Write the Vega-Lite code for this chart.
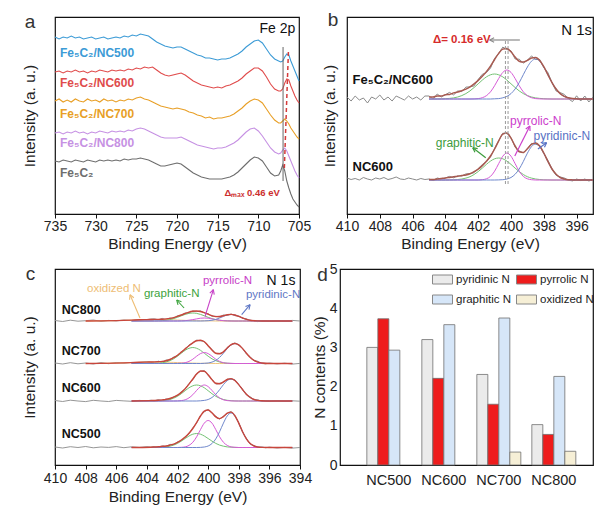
{
"$schema": "https://vega.github.io/schema/vega-lite/v6.json",
"padding": {"left": 21, "top": 10, "right": 2, "bottom": 2},
"config": {
  "font": "Liberation Sans",
  "view": {"stroke": "#111", "strokeWidth": 1.2},
  "axis": {"grid": false, "domain": false, "tickColor": "#111", "tickSize": 4, "labelColor": "#222", "titleColor": "#222", "labelFontSize": 14, "titleFontSize": 15.5, "titleFontWeight": "normal", "labelOverlap": false, "labelFlush": false}
},
"datasets": {
"a": [
{"e":735,"NC500":177,"NC600":142,"NC700":113,"NC800":81,"Fe5C2":53},
{"e":734.5,"NC500":175,"NC600":143,"NC700":115,"NC800":82,"Fe5C2":52},
{"e":734,"NC500":177,"NC600":141,"NC700":112,"NC800":80,"Fe5C2":54},
{"e":733.5,"NC500":176,"NC600":143,"NC700":114,"NC800":82,"Fe5C2":53},
{"e":733,"NC500":178,"NC600":142,"NC700":112,"NC800":81,"Fe5C2":52},
{"e":732.5,"NC500":176,"NC600":144,"NC700":115,"NC800":83,"Fe5C2":54},
{"e":732,"NC500":177,"NC600":142,"NC700":113,"NC800":81,"Fe5C2":53},
{"e":731.5,"NC500":175,"NC600":143,"NC700":112,"NC800":82,"Fe5C2":52},
{"e":731,"NC500":176,"NC600":141,"NC700":115,"NC800":80,"Fe5C2":54},
{"e":730.5,"NC500":177,"NC600":143,"NC700":113,"NC800":82,"Fe5C2":53},
{"e":730,"NC500":175,"NC600":142,"NC700":114,"NC800":81,"Fe5C2":52},
{"e":729.5,"NC500":176,"NC600":144,"NC700":112,"NC800":83,"Fe5C2":54},
{"e":729,"NC500":177,"NC600":143,"NC700":115,"NC800":82,"Fe5C2":53},
{"e":728.5,"NC500":175,"NC600":142,"NC700":113,"NC800":81,"Fe5C2":54},
{"e":728,"NC500":176,"NC600":144,"NC700":114,"NC800":83,"Fe5C2":53},
{"e":727.5,"NC500":177,"NC600":143,"NC700":112,"NC800":82,"Fe5C2":54},
{"e":727,"NC500":176,"NC600":144,"NC700":114,"NC800":83,"Fe5C2":53},
{"e":726.5,"NC500":178,"NC600":143,"NC700":113,"NC800":82,"Fe5C2":55},
{"e":726,"NC500":177,"NC600":145,"NC700":115,"NC800":84,"Fe5C2":54},
{"e":725.5,"NC500":179,"NC600":144,"NC700":114,"NC800":83,"Fe5C2":55},
{"e":725,"NC500":178,"NC600":146,"NC700":116,"NC800":85,"Fe5C2":55},
{"e":724.5,"NC500":180,"NC600":145,"NC700":117,"NC800":86,"Fe5C2":56},
{"e":724,"NC500":179,"NC600":147,"NC700":115,"NC800":85,"Fe5C2":55},
{"e":723.5,"NC500":178,"NC600":146,"NC700":114,"NC800":83,"Fe5C2":54},
{"e":723,"NC500":175,"NC600":147,"NC700":112,"NC800":81,"Fe5C2":52},
{"e":722.5,"NC500":172,"NC600":144,"NC700":110,"NC800":79,"Fe5C2":50},
{"e":722,"NC500":170,"NC600":141,"NC700":108,"NC800":77,"Fe5C2":48},
{"e":721.5,"NC500":168,"NC600":139,"NC700":107,"NC800":76,"Fe5C2":48},
{"e":721,"NC500":167,"NC600":138,"NC700":106,"NC800":76,"Fe5C2":49},
{"e":720.5,"NC500":166,"NC600":139,"NC700":105,"NC800":76,"Fe5C2":50},
{"e":720,"NC500":167,"NC600":140,"NC700":106,"NC800":76,"Fe5C2":51},
{"e":719.5,"NC500":167,"NC600":141,"NC700":105,"NC800":77,"Fe5C2":50},
{"e":719,"NC500":165,"NC600":139,"NC700":104,"NC800":75,"Fe5C2":47},
{"e":718.5,"NC500":163,"NC600":136,"NC700":102,"NC800":73,"Fe5C2":44},
{"e":718,"NC500":161,"NC600":133,"NC700":101,"NC800":71,"Fe5C2":41},
{"e":717.5,"NC500":159,"NC600":131,"NC700":99,"NC800":69,"Fe5C2":39},
{"e":717,"NC500":158,"NC600":129,"NC700":98,"NC800":68,"Fe5C2":37},
{"e":716.5,"NC500":156,"NC600":128,"NC700":96,"NC800":67,"Fe5C2":36},
{"e":716,"NC500":156,"NC600":127,"NC700":97,"NC800":66,"Fe5C2":35},
{"e":715.5,"NC500":155,"NC600":126,"NC700":95,"NC800":65,"Fe5C2":35},
{"e":715,"NC500":154,"NC600":127,"NC700":96,"NC800":66,"Fe5C2":35},
{"e":714.5,"NC500":155,"NC600":126,"NC700":96,"NC800":66,"Fe5C2":35},
{"e":714,"NC500":155,"NC600":128,"NC700":97,"NC800":67,"Fe5C2":36},
{"e":713.5,"NC500":156,"NC600":129,"NC700":98,"NC800":69,"Fe5C2":37},
{"e":713,"NC500":158,"NC600":131,"NC700":100,"NC800":71,"Fe5C2":39},
{"e":712.5,"NC500":160,"NC600":133,"NC700":103,"NC800":74,"Fe5C2":42},
{"e":712,"NC500":163,"NC600":136,"NC700":106,"NC800":78,"Fe5C2":46},
{"e":711.5,"NC500":167,"NC600":140,"NC700":110,"NC800":82,"Fe5C2":50},
{"e":711,"NC500":170,"NC600":143,"NC700":113,"NC800":85,"Fe5C2":54},
{"e":710.5,"NC500":173,"NC600":146,"NC700":115,"NC800":86,"Fe5C2":57},
{"e":710,"NC500":174,"NC600":146,"NC700":114,"NC800":83,"Fe5C2":56},
{"e":709.5,"NC500":171,"NC600":143,"NC700":111,"NC800":78,"Fe5C2":53},
{"e":709,"NC500":165,"NC600":137,"NC700":105,"NC800":72,"Fe5C2":47},
{"e":708.5,"NC500":159,"NC600":130,"NC700":99,"NC800":66,"Fe5C2":41},
{"e":708,"NC500":155,"NC600":125,"NC700":94,"NC800":62,"Fe5C2":38},
{"e":707.5,"NC500":153,"NC600":123,"NC700":91,"NC800":60,"Fe5C2":39},
{"e":707.25,"NC500":152,"NC600":123,"NC700":91,"NC800":61,"Fe5C2":43},
{"e":707,"NC500":153,"NC600":125,"NC700":93,"NC800":64,"Fe5C2":49},
{"e":706.75,"NC500":157,"NC600":131,"NC700":95,"NC800":66,"Fe5C2":43},
{"e":706.5,"NC500":160,"NC600":135,"NC700":93,"NC800":63,"Fe5C2":33},
{"e":706.25,"NC500":159,"NC600":134,"NC700":90,"NC800":58,"Fe5C2":26},
{"e":706,"NC500":153,"NC600":128,"NC700":86,"NC800":53,"Fe5C2":20},
{"e":705.75,"NC500":148,"NC600":123,"NC700":83,"NC800":48,"Fe5C2":15},
{"e":705.5,"NC500":143,"NC600":118,"NC700":80,"NC800":43,"Fe5C2":12},
{"e":705.25,"NC500":138,"NC600":114,"NC700":77,"NC800":39,"Fe5C2":9},
{"e":705,"NC500":133,"NC600":111,"NC700":75,"NC800":36,"Fe5C2":7}
],
"b": [
{"e":410,"r1":117,"r2":36},{"e":409.75,"r1":113,"r2":34.5},{"e":409.5,"r1":118,"r2":35.5},{"e":409.25,"r1":114,"r2":34},
{"e":409,"r1":116,"r2":36.5},{"e":408.75,"r1":111,"r2":35},{"e":408.5,"r1":117,"r2":34},{"e":408.25,"r1":115,"r2":36},
{"e":408,"r1":119,"r2":35},{"e":407.75,"r1":114,"r2":36.5},{"e":407.5,"r1":117,"r2":34.5},{"e":407.25,"r1":113,"r2":35.5},
{"e":407,"r1":118,"r2":37},{"e":406.75,"r1":116,"r2":35},{"e":406.5,"r1":114,"r2":34.5},{"e":406.25,"r1":118,"r2":36},
{"e":406,"r1":115,"r2":35},{"e":405.75,"r1":117,"r2":34},{"e":405.5,"r1":114,"r2":35.5},{"e":405.25,"r1":118,"r2":34.5},
{"e":405,"r1":118,"f1":117,"g1":115,"p1":115,"d1":115,"r2":35,"f2":34.5,"g2":34,"p2":34,"d2":34},
{"e":404.75,"r1":115,"f1":117,"g1":115,"p1":115,"d1":115,"r2":33.5,"f2":34.5,"g2":34,"p2":34,"d2":34},
{"e":404.5,"r1":120,"f1":118,"g1":115,"p1":115,"d1":115,"r2":36,"f2":35,"g2":34,"p2":34,"d2":34},
{"e":404.25,"r1":117,"f1":118,"g1":115.1,"p1":115,"d1":115,"r2":35,"f2":35.5,"g2":34,"p2":34,"d2":34},
{"e":404,"r1":119.3,"f1":119.3,"g1":115.3,"p1":115,"d1":115,"r2":36,"f2":36,"g2":34,"p2":34,"d2":34},
{"e":403.75,"r1":121.6,"f1":119.6,"g1":115.6,"p1":115,"d1":115,"r2":37.6,"f2":36.6,"g2":34.1,"p2":34,"d2":34},
{"e":403.5,"r1":119.1,"f1":121.1,"g1":116.1,"p1":115,"d1":115,"r2":36.2,"f2":37.2,"g2":34.2,"p2":34,"d2":34},
{"e":403.25,"r1":123,"f1":122,"g1":117,"p1":115,"d1":115,"r2":38.2,"f2":37.7,"g2":34.5,"p2":34,"d2":34},
{"e":403,"r1":122.4,"f1":123.4,"g1":118.4,"p1":115,"d1":115,"r2":38,"f2":38.5,"g2":35,"p2":34,"d2":34},
{"e":402.75,"r1":126.9,"f1":124.9,"g1":120.4,"p1":115,"d1":115,"r2":40.1,"f2":39.1,"g2":35.9,"p2":34,"d2":34},
{"e":402.5,"r1":127.1,"f1":127.1,"g1":123.1,"p1":115,"d1":115,"r2":40.3,"f2":40.3,"g2":37.3,"p2":34,"d2":34},
{"e":402.25,"r1":128.1,"f1":130.1,"g1":126.5,"p1":115.1,"d1":115,"r2":41.3,"f2":42.3,"g2":39.5,"p2":34,"d2":34},
{"e":402,"r1":134.6,"f1":133.6,"g1":130.2,"p1":115.4,"d1":115,"r2":45.4,"f2":44.9,"g2":42.4,"p2":34,"d2":34},
{"e":401.75,"r1":139.7,"f1":137.7,"g1":133.9,"p1":116.3,"d1":115,"r2":49.4,"f2":48.4,"g2":45.9,"p2":34.3,"d2":34},
{"e":401.5,"r1":141.4,"f1":142.4,"g1":137.1,"p1":118.3,"d1":115,"r2":52.3,"f2":52.8,"g2":49.6,"p2":35.2,"d2":34},
{"e":401.25,"r1":145.9,"f1":147.9,"g1":139.2,"p1":122.2,"d1":115,"r2":57,"f2":58,"g2":52.9,"p2":37.6,"d2":34},
{"e":401,"r1":155.5,"f1":154.5,"g1":140,"p1":128.3,"d1":115.2,"r2":65.5,"f2":65,"g2":55.2,"p2":42.8,"d2":34},
{"e":400.75,"r1":160.6,"f1":160.6,"g1":139.2,"p1":135.5,"d1":115.4,"r2":73.2,"f2":73.2,"g2":56,"p2":50.4,"d2":34.1},
{"e":400.5,"r1":166.9,"f1":164.9,"g1":137.1,"p1":141.6,"d1":116.2,"r2":80.8,"f2":79.8,"g2":55.2,"p2":57.8,"d2":34.3},
{"e":400.25,"r1":164.5,"f1":165.5,"g1":133.9,"p1":144,"d1":117.6,"r2":80.4,"f2":80.9,"g2":52.9,"p2":61,"d2":35},
{"e":400,"r1":163.2,"f1":162.2,"g1":130.2,"p1":141.6,"d1":120.4,"r2":76.4,"f2":75.9,"g2":49.6,"p2":57.8,"d2":36.5},
{"e":399.75,"r1":155,"f1":157,"g1":126.5,"p1":135.5,"d1":125,"r2":67,"f2":68,"g2":45.9,"p2":50.4,"d2":39.7},
{"e":399.5,"r1":154.8,"f1":152.8,"g1":123.1,"p1":128.3,"d1":131.4,"r2":63.2,"f2":62.2,"g2":42.4,"p2":42.8,"d2":45},
{"e":399.25,"r1":150.9,"f1":151.9,"g1":120.4,"p1":122.2,"d1":139.3,"r2":61.1,"f2":61.6,"g2":39.5,"p2":37.6,"d2":52.5},
{"e":399,"r1":153.7,"f1":153.7,"g1":118.4,"p1":118.3,"d1":147,"r2":65.3,"f2":65.3,"g2":37.3,"p2":35.2,"d2":60.8},
{"e":398.75,"r1":158.1,"f1":156.1,"g1":117,"p1":116.3,"d1":152.8,"r2":70.6,"f2":69.6,"g2":35.9,"p2":34.3,"d2":67.4},
{"e":398.5,"r1":154.5,"f1":156.5,"g1":116.1,"p1":115.4,"d1":155,"r2":70,"f2":71,"g2":35,"p2":34,"d2":70},
{"e":398.25,"r1":154.5,"f1":153.5,"g1":115.6,"p1":115.1,"d1":152.8,"r2":68.4,"f2":67.9,"g2":34.5,"p2":34,"d2":67.4},
{"e":398,"r1":146.3,"f1":147.3,"g1":115.3,"p1":115,"d1":147,"r2":60.5,"f2":61,"g2":34.2,"p2":34,"d2":60.8},
{"e":397.75,"r1":141.4,"f1":139.4,"g1":115.1,"p1":115,"d1":139.3,"r2":53.6,"f2":52.6,"g2":34.1,"p2":34,"d2":52.5},
{"e":397.5,"r1":131.4,"f1":131.4,"g1":115,"p1":115,"d1":131.4,"r2":45,"f2":45,"g2":34,"p2":34,"d2":45},
{"e":397.25,"r1":123,"f1":125,"g1":115,"p1":115,"d1":125,"r2":38.7,"f2":39.7,"g2":34,"p2":34,"d2":39.7},
{"e":397,"r1":121.4,"f1":120.4,"g1":115,"p1":115,"d1":120.4,"r2":37,"f2":36.5,"g2":34,"p2":34,"d2":36.5},
{"e":396.75,"r1":119.6,"f1":117.6,"g1":115,"p1":115,"d1":117.6,"r2":36,"f2":35,"g2":34,"p2":34,"d2":35},
{"e":396.5,"r1":115.2,"f1":116.2,"g1":115,"p1":115,"d1":116.2,"r2":33.8,"f2":34.3,"g2":34,"p2":34,"d2":34.3},
{"e":396.25,"r1":112.4,"f1":115.4,"g1":115,"p1":115,"d1":115.4,"r2":33.1,"f2":34.1,"g2":34,"p2":34,"d2":34.1},
{"e":396,"r1":118.2,"f1":115.2,"g1":115,"p1":115,"d1":115.2,"r2":35,"f2":34,"g2":34,"p2":34,"d2":34},
{"e":395.75,"r1":113,"f1":115,"g1":115,"p1":115,"d1":115,"r2":33.5,"f2":34,"g2":34,"p2":34,"d2":34},
{"e":395.5,"r1":118,"f1":115,"g1":115,"p1":115,"d1":115,"r2":35,"f2":34,"g2":34,"p2":34,"d2":34},
{"e":395.25,"r1":112,"f1":115,"g1":115,"p1":115,"d1":115,"r2":33,"f2":34,"g2":34,"p2":34,"d2":34},
{"e":395,"r1":117,"f1":115,"g1":115,"p1":115,"d1":115,"r2":34.5,"f2":34,"g2":34,"p2":34,"d2":34}
],
"c": [
{"e":410,"r8":144.5,"r7":102,"r6":64.5,"r5":18},
{"e":409.5,"r8":143.5,"r7":101,"r6":63.5,"r5":17},
{"e":409,"r8":144.8,"r7":102.3,"r6":64.8,"r5":18.3},
{"e":408.5,"r8":143.8,"r7":101.2,"r6":64,"r5":17.5},
{"e":408,"r8":144.3,"r7":102,"r6":63.4,"r5":18.5,"o8":144,"f8":144,"o7":101.5,"f7":101.5},
{"e":407.5,"r8":145,"r7":101,"r6":64.7,"r5":17.2},
{"e":407,"r8":143.7,"r7":102.4,"r6":64,"r5":18,"o8":144.1,"f8":144.1,"o7":101.6,"f7":101.6},
{"e":406.5,"r8":144.6,"r7":101.3,"r6":63.5,"r5":17.6},
{"e":406,"r8":144.1,"r7":102.5,"r6":64.6,"r5":18.4,"o8":144.4,"f8":144.4,"o7":101.9,"f7":101.9},
{"e":405.5,"r8":145,"r7":101.8,"r6":64.1,"r5":17.3},
{"e":405,"r8":144.4,"r7":102.6,"r6":63.7,"r5":18.2,"o8":144.9,"f8":144.9,"o7":102.4,"f7":102.4,"g8":144,"p8":144,"d8":144,"g7":101.5,"p7":101.5,"d7":101.5,"g6":64,"p6":64,"d6":64,"f6":64,"g5":17.5,"p5":17.5,"d5":17.5,"f5":17.5},
{"e":404.5,"r8":145.3,"r7":102.4,"r6":64.6,"r5":17.6,"o8":145.2,"f8":145.2,"o7":102.7,"f7":102.7},
{"e":404,"r8":145.2,"r7":103.4,"r6":64.2,"r5":18.3,"o8":145.4,"f8":145.4,"o7":102.9,"f7":102.9},
{"e":403.75,"r8":146,"r7":102.8,"r6":64.8,"r5":17.9,"o8":145.5,"f8":145.5,"o7":103,"f7":103,"f6":64.4,"f5":17.8},
{"e":403.5,"r8":146.2,"g8":144.1,"p8":144,"d8":144,"o8":145.5,"f8":145.6,"r7":102.5,"g7":101.6,"p7":101.5,"d7":101.5,"o7":103,"f7":103.1,"r6":64.1,"g6":64,"p6":64,"d6":64,"f6":64.5,"r5":18.4,"g5":17.5,"p5":17.5,"d5":17.5,"f5":18},
{"e":403.25,"r8":145.1,"g8":144.2,"p8":144,"d8":144,"o8":145.5,"f8":145.6,"r7":103.8,"g7":101.8,"p7":101.5,"d7":101.5,"o7":103,"f7":103.3,"r6":65.4,"g6":64.1,"p6":64,"d6":64,"f6":64.7,"r5":17.5,"g5":17.6,"p5":17.5,"d5":17.5,"f5":18.2},
{"e":403,"r8":146.6,"g8":144.4,"p8":144,"d8":144,"o8":145.4,"f8":145.8,"r7":102.8,"g7":102.2,"p7":101.5,"d7":101.5,"o7":102.9,"f7":103.6,"r6":64.5,"g6":64.3,"p6":64,"d6":64,"f6":65.1,"r5":19.2,"g5":17.8,"p5":17.5,"d5":17.5,"f5":18.6},
{"e":402.75,"r8":145.4,"g8":144.7,"p8":144,"d8":144,"o8":145.3,"f8":146.1,"r7":105,"g7":103,"p7":101.5,"d7":101.5,"o7":102.8,"f7":104.3,"r6":66.1,"g6":64.7,"p6":64,"d6":64,"f6":65.6,"r5":18.5,"g5":18.1,"p5":17.5,"d5":17.5,"f5":19},
{"e":402.5,"r8":146.9,"g8":145.4,"p8":144,"d8":144,"o8":145.2,"f8":146.6,"r7":105.2,"g7":104.3,"p7":101.5,"d7":101.5,"o7":102.7,"f7":105.5,"r6":65.7,"g6":65.5,"p6":64,"d6":64,"f6":66.5,"r5":20.6,"g5":18.8,"p5":17.5,"d5":17.5,"f5":19.8},
{"e":402.25,"r8":146.8,"g8":146.4,"p8":144,"d8":144,"o8":145.1,"f8":147.4,"r7":107.9,"g7":106.2,"p7":101.5,"d7":101.5,"o7":102.6,"f7":107.3,"r6":68.2,"g6":66.8,"p6":64,"d6":64,"f6":67.8,"r5":20.5,"g5":19.9,"p5":17.5,"d5":17.5,"f5":20.9},
{"e":402,"r8":149.3,"g8":147.7,"p8":144,"d8":144,"o8":144.9,"f8":148.6,"r7":109.1,"g7":108.8,"p7":101.6,"d7":101.5,"o7":102.4,"f7":109.8,"r6":69.3,"g6":68.7,"p6":64.1,"d6":64,"f6":69.8,"r5":23.1,"g5":21.6,"p5":17.5,"d5":17.5,"f5":22.6},
{"e":401.75,"r8":149.7,"g8":149.2,"p8":144.1,"d8":144,"o8":144.8,"f8":150,"r7":113.2,"g7":111.8,"p7":101.8,"d7":101.5,"o7":102.3,"f7":112.9,"r6":73.4,"g6":71.3,"p6":64.4,"d6":64,"f6":72.6,"r5":24.2,"g5":23.9,"p5":17.7,"d5":17.5,"f5":25},
{"e":401.5,"r8":152,"g8":150.6,"p8":144.3,"d8":144,"o8":144.6,"f8":151.5,"r7":115.6,"g7":114.7,"p7":102.3,"d7":101.5,"o7":102.1,"f7":116.1,"r6":76,"g6":74.3,"p6":65.2,"d6":64,"f6":76.3,"r5":28.2,"g5":26.5,"p5":18.1,"d5":17.5,"f5":27.9},
{"e":401.25,"r8":152.1,"g8":151.6,"p8":144.8,"d8":144,"o8":144.5,"f8":152.9,"r7":120.1,"g7":116.7,"p7":103.6,"d7":101.5,"o7":102,"f7":119.3,"r6":81.5,"g6":77.2,"p6":67.1,"d6":64,"f6":80.9,"r5":31.1,"g5":29,"p5":19.6,"d5":17.5,"f5":31.7},
{"e":401,"r8":154.1,"g8":152,"p8":145.4,"d8":144,"o8":144.4,"f8":153.7,"r7":121.8,"g7":117.5,"p7":105.8,"d7":101.5,"o7":101.9,"f7":122.2,"r6":85.3,"g6":79.2,"p6":70.3,"d6":64,"f6":86,"r5":37.2,"g5":30.8,"p5":22.7,"d5":17.5,"f5":36.5},
{"e":400.75,"r8":153.4,"g8":151.6,"p8":146.1,"d8":144,"o8":144.3,"f8":154,"r7":124.9,"g7":116.7,"p7":108.8,"d7":101.5,"o7":101.8,"f7":124.3,"r6":91.4,"g6":80,"p6":74.6,"d6":64,"f6":90.9,"r5":42,"g5":31.5,"p5":28.2,"d5":17.5,"f5":42.5},
{"e":400.5,"r8":154.2,"g8":150.6,"p8":146.8,"d8":144,"o8":144.2,"f8":153.5,"r7":124.1,"g7":114.7,"p7":111.4,"d7":101.5,"o7":101.7,"f7":124.8,"r6":93.6,"g6":79.2,"p6":78.4,"d6":64.2,"f6":94,"r5":49.4,"g5":30.8,"p5":35.4,"d5":17.6,"f5":49},
{"e":400.25,"r8":152,"g8":149.2,"p8":147,"d8":144.1,"o8":144.2,"f8":152.4,"r7":123.6,"g7":111.8,"p7":112.5,"d7":101.7,"o7":101.7,"f7":123.2,"r6":94.5,"g6":77.2,"p6":80,"d6":64.6,"f6":93.8,"r5":53.2,"g5":29,"p5":41.9,"d5":18,"f5":53.9},
{"e":400,"r8":151.4,"g8":147.7,"p8":146.8,"d8":144.3,"o8":144.1,"f8":150.8,"r7":118.7,"g7":108.8,"p7":111.4,"d7":102,"o7":101.6,"f7":119.3,"r6":89.6,"g6":74.3,"p6":78.4,"d6":65.5,"f6":90.2,"r5":55.6,"g5":26.5,"p5":44.5,"d5":19,"f5":55},
{"e":399.75,"r8":148.6,"g8":146.4,"p8":146.1,"d8":144.7,"o8":144.1,"f8":149.3,"r7":115.7,"g7":106.2,"p7":108.8,"d7":102.9,"o7":101.6,"f7":115,"r6":85.7,"g6":71.3,"p6":74.6,"d6":67.5,"f6":85.4,"r5":51.9,"g5":23.9,"p5":41.9,"d5":21.4,"f5":52.2},
{"e":399.5,"r8":148.7,"g8":145.4,"p8":145.4,"d8":145.6,"o8":144,"f8":148.4,"r7":111.4,"g7":104.3,"p7":105.8,"d7":104.6,"o7":101.5,"f7":111.7,"r6":80.9,"g6":68.7,"p6":70.3,"d6":70.7,"f6":81.7,"r5":48.9,"g5":21.6,"p5":35.4,"d5":26.1,"f5":48.1},
{"e":399.25,"r8":148,"g8":144.7,"p8":144.8,"d8":147,"o8":144,"f8":148.5,"r7":111.7,"g7":103,"p7":103.6,"d7":107.6,"o7":101.5,"f7":111.2,"r6":81.8,"g6":66.8,"p6":67.1,"d6":75.3,"f6":81.2,"r5":45.8,"g5":19.9,"p5":28.2,"d5":33.3,"f5":46.4},
{"e":399,"r8":150.1,"g8":144.4,"p8":144.3,"d8":148.6,"o8":144,"f8":149.3,"r7":112.5,"g7":102.2,"p7":102.3,"d7":111.8,"o7":101.5,"f7":113.3,"r6":82.6,"g6":65.5,"p6":65.2,"d6":80.4,"f6":83.1,"r5":48.9,"g5":18.8,"p5":22.7,"d5":41.9,"f5":48.4},
{"e":398.75,"r8":149.6,"g8":144.2,"p8":144.1,"d8":150,"o8":144,"f8":150.2,"r7":117.6,"g7":101.8,"p7":101.8,"d7":116.4,"o7":101.5,"f7":117,"r6":85.9,"g6":64.7,"p6":64.4,"d6":84.4,"f6":85.5,"r5":51.4,"g5":18.1,"p5":19.6,"d5":49.1,"f5":51.8},
{"e":398.5,"r8":151,"g8":144.1,"p8":144,"d8":150.5,"o8":144,"f8":150.6,"r7":119.9,"g7":101.6,"p7":101.6,"d7":120.1,"o7":101.5,"f7":120.3,"r6":85.7,"g6":64.3,"p6":64.1,"d6":86,"f6":86.4,"r5":53.6,"g5":17.8,"p5":18.1,"d5":52,"f5":52.9},
{"e":398.25,"r8":149.3,"g8":144,"p8":144,"d8":150,"o8":144,"f8":150,"r7":122.2,"g7":101.5,"p7":101.5,"d7":121.5,"o7":101.5,"f7":121.5,"r6":85.3,"g6":64.1,"p6":64,"d6":84.4,"f6":84.5,"r5":48.6,"g5":17.6,"p5":17.7,"d5":49.1,"f5":49.4},
{"e":398,"r8":149.1,"g8":144,"p8":144,"d8":148.6,"o8":144,"f8":148.6,"r7":119.6,"g7":101.5,"p7":101.5,"d7":120.1,"o7":101.5,"f7":120.1,"r6":80.1,"g6":64,"p6":64,"d6":80.4,"f6":80.4,"r5":42.2,"g5":17.5,"p5":17.5,"d5":41.9,"f5":41.9},
{"e":397.75,"r8":146.7,"g8":144,"p8":144,"d8":147,"o8":144,"f8":147,"r7":116.7,"g7":101.5,"p7":101.5,"d7":116.4,"o7":101.5,"f7":116.4,"r6":75.8,"g6":64,"p6":64,"d6":75.3,"f6":75.3,"r5":32.8,"g5":17.5,"p5":17.5,"d5":33.3,"f5":33.3},
{"e":397.5,"r8":146.3,"g8":144,"p8":144,"d8":145.6,"o8":144,"f8":145.6,"r7":111.1,"g7":101.5,"p7":101.5,"d7":111.8,"o7":101.5,"f7":111.8,"r6":70.1,"g6":64,"p6":64,"d6":70.7,"f6":70.7,"r5":26.7,"g5":17.5,"p5":17.5,"d5":26.1,"f5":26.1},
{"e":397.25,"r8":144.1,"g8":144,"p8":144,"d8":144.7,"o8":144,"f8":144.7,"r7":108.2,"g7":101.5,"p7":101.5,"d7":107.6,"o7":101.5,"f7":107.6,"r6":68.2,"g6":64,"p6":64,"d6":67.5,"f6":67.5,"r5":20.7,"g5":17.5,"p5":17.5,"d5":21.4,"f5":21.4},
{"e":397,"r8":144.7,"g8":144,"p8":144,"d8":144.3,"o8":144,"f8":144.3,"r7":104.2,"g7":101.5,"p7":101.5,"d7":104.6,"o7":101.5,"f7":104.6,"r6":65.1,"g6":64,"p6":64,"d6":65.5,"f6":65.5,"r5":19.4,"g5":17.5,"p5":17.5,"d5":19,"f5":19},
{"e":396.75,"r8":143.3,"g8":144,"p8":144,"d8":144.1,"o8":144,"f8":144.1,"r7":103.7,"g7":101.5,"p7":101.5,"d7":102.9,"o7":101.5,"f7":102.9,"r6":65.2,"g6":64,"p6":64,"d6":64.6,"f6":64.6,"r5":17.4,"g5":17.5,"p5":17.5,"d5":18,"f5":18},
{"e":396.5,"r8":144.5,"g8":144,"p8":144,"d8":144,"o8":144,"f8":144,"r7":101.5,"g7":101.5,"p7":101.5,"d7":102,"o7":101.5,"f7":102,"r6":63.7,"g6":64,"p6":64,"d6":64.2,"f6":64.2,"r5":18.1,"g5":17.5,"p5":17.5,"d5":17.6,"f5":17.6},
{"e":396.25,"r8":144.5,"r7":101.2,"r6":64.3,"r5":17.2},
{"e":396,"r8":143.6,"g8":144,"p8":144,"d8":144,"o8":144,"f8":144,"r7":102,"g7":101.5,"p7":101.5,"d7":101.5,"o7":101.5,"f7":101.5,"r6":63.5,"g6":64,"p6":64,"d6":64,"f6":64,"r5":17.9,"g5":17.5,"p5":17.5,"d5":17.5,"f5":17.5},
{"e":395.5,"r8":144.4,"r7":101.1,"r6":64.4,"r5":17},
{"e":395,"r8":143.8,"r7":101.8,"r6":63.6,"r5":17.6},
{"e":394.5,"r8":144.6,"g8":144,"p8":144,"d8":144,"o8":144,"f8":144,"r7":100.9,"g7":101.5,"p7":101.5,"d7":101.5,"o7":101.5,"f7":101.5,"r6":64.2,"g6":64,"p6":64,"d6":64,"f6":64,"r5":16.9,"g5":17.5,"p5":17.5,"d5":17.5,"f5":17.5},
{"e":394,"r8":144,"r7":101.6,"r6":63.8,"r5":17.5}
],
"d": [
{"s":"NC500","t":"pyridinic N","v":3.0},{"s":"NC500","t":"pyrrolic N","v":3.73},{"s":"NC500","t":"graphitic N","v":2.93},
{"s":"NC600","t":"pyridinic N","v":3.2},{"s":"NC600","t":"pyrrolic N","v":2.21},{"s":"NC600","t":"graphitic N","v":3.58},
{"s":"NC700","t":"pyridinic N","v":2.31},{"s":"NC700","t":"pyrrolic N","v":1.55},{"s":"NC700","t":"graphitic N","v":3.75},{"s":"NC700","t":"oxidized N","v":0.33},
{"s":"NC800","t":"pyridinic N","v":1.03},{"s":"NC800","t":"pyrrolic N","v":0.78},{"s":"NC800","t":"graphitic N","v":2.26},{"s":"NC800","t":"oxidized N","v":0.35}
]
},
"vconcat": [
{
"hconcat": [
{
"width": 244, "height": 197,
"encoding": {
  "x": {"field": "e", "type": "quantitative", "scale": {"domain": [735, 705], "nice": false, "zero": false}, "axis": {"title": "Binding Energy (eV)", "values": [735,730,725,720,715,710,705], "labelPadding": 1, "titlePadding": 3}},
  "y": {"field": "v", "type": "quantitative", "scale": {"domain": [0, 197], "nice": false, "zero": false}, "axis": {"title": "Intensity (a. u.)", "labels": false, "ticks": false, "titlePadding": 18}}
},
"layer": [
{"data": {"name": "a"}, "transform": [{"fold": ["NC500","NC600","NC700","NC800","Fe5C2"], "as": ["s","v"]}],
 "mark": {"type": "line", "strokeWidth": 1.1},
 "encoding": {"color": {"field": "s", "type": "nominal", "scale": {"domain": ["NC500","NC600","NC700","NC800","Fe5C2"], "range": ["#3c9bd6","#e04c4c","#e89f26","#c691e3","#6e6e6e"]}, "legend": null}}},
{"data": {"values": [{"e": 706.96, "v": 33, "v2": 167}]}, "mark": {"type": "rule", "color": "#666", "strokeWidth": 1}, "encoding": {"y2": {"field": "v2"}}},
{"data": {"values": [{"e": 706.3, "v": 163}, {"e": 706.8, "v": 46}]}, "mark": {"type": "line", "color": "#d43a3a", "strokeDash": [4,3], "strokeWidth": 1.5}, "encoding": {}},
{"data": {"values": [
  {"e": 734.4, "v": 161, "s": "NC500", "t": "Fe₅C₂/NC500"},
  {"e": 734.4, "v": 131, "s": "NC600", "t": "Fe₅C₂/NC600"},
  {"e": 734.4, "v": 100, "s": "NC700", "t": "Fe₅C₂/NC700"},
  {"e": 734.4, "v": 71, "s": "NC800", "t": "Fe₅C₂/NC800"},
  {"e": 734.4, "v": 41, "s": "Fe5C2", "t": "Fe₅C₂"}]},
 "mark": {"type": "text", "align": "left", "baseline": "middle", "fontWeight": "bold", "fontSize": 12},
 "encoding": {"text": {"field": "t", "type": "nominal"}, "color": {"field": "s", "type": "nominal", "scale": {"domain": ["NC500","NC600","NC700","NC800","Fe5C2"], "range": ["#3c9bd6","#e04c4c","#e89f26","#c691e3","#6e6e6e"]}, "legend": null}}},
{"data": {"values": [{"e": 707.66, "v": 184.7, "t": "Fe 2p"}]}, "mark": {"type": "text", "fontSize": 14, "color": "#111", "baseline": "middle"}, "encoding": {"text": {"field": "t", "type": "nominal"}}},
{"data": {"values": [{"e": 710.76, "v": 21.3, "t": "Δₘₐₓ 0.46 eV"}]}, "mark": {"type": "text", "fontSize": 9.5, "fontWeight": "bold", "color": "#cc2e2e", "baseline": "middle"}, "encoding": {"text": {"field": "t", "type": "nominal"}}},
{"data": {"values": [{"e": 738.07, "v": 186.3, "t": "a"}]}, "mark": {"type": "text", "fontSize": 19, "color": "#333", "baseline": "alphabetic", "align": "center"}, "encoding": {"text": {"field": "t", "type": "nominal"}}}
]
},
{
"width": 246, "height": 197,
"encoding": {
  "x": {"field": "e", "type": "quantitative", "scale": {"domain": [410, 395], "nice": false, "zero": false}, "axis": {"title": "Binding Energy (eV)", "values": [410,408,406,404,402,400,398,396], "labelPadding": 1, "titlePadding": 3}},
  "y": {"field": "v", "type": "quantitative", "scale": {"domain": [0, 197], "nice": false, "zero": false}, "axis": {"title": "Intensity (a. u.)", "labels": false, "ticks": false, "titlePadding": 10}}
},
"layer": [
{"data": {"name": "b"}, "transform": [{"fold": ["r1","r2"], "as": ["k","v"]}, {"filter": "isValid(datum.v)"}],
 "mark": {"type": "line", "strokeWidth": 0.9},
 "encoding": {"color": {"field": "k", "type": "nominal", "scale": {"domain": ["r1","r2","f1","f2","g1","g2","p1","p2","d1","d2","ar","lg","lp","ld"], "range": ["#7d7d7d","#7d7d7d","#a85a50","#a85a50","#74c274","#74c274","#d65ad6","#d65ad6","#6f88cc","#6f88cc","#8a8a8a","#3c9c3c","#cc40cc","#5872c4"]}, "legend": null}}},
{"data": {"name": "b"}, "transform": [{"fold": ["g1","p1","d1","g2","p2","d2"], "as": ["k","v"]}, {"filter": "isValid(datum.v)"}],
 "mark": {"type": "line", "strokeWidth": 1, "interpolate": "monotone"},
 "encoding": {"color": {"field": "k", "type": "nominal", "scale": {"domain": ["r1","r2","f1","f2","g1","g2","p1","p2","d1","d2","ar","lg","lp","ld"], "range": ["#7d7d7d","#7d7d7d","#a85a50","#a85a50","#74c274","#74c274","#d65ad6","#d65ad6","#6f88cc","#6f88cc","#8a8a8a","#3c9c3c","#cc40cc","#5872c4"]}, "legend": null}}},
{"data": {"name": "b"}, "transform": [{"fold": ["f1","f2"], "as": ["k","v"]}, {"filter": "isValid(datum.v)"}],
 "mark": {"type": "line", "strokeWidth": 1.5, "interpolate": "monotone"},
 "encoding": {"color": {"field": "k", "type": "nominal", "scale": {"domain": ["r1","r2","f1","f2","g1","g2","p1","p2","d1","d2","ar","lg","lp","ld"], "range": ["#7d7d7d","#7d7d7d","#a85a50","#a85a50","#74c274","#74c274","#d65ad6","#d65ad6","#6f88cc","#6f88cc","#8a8a8a","#3c9c3c","#cc40cc","#5872c4"]}, "legend": null}}},
{"data": {"values": [{"e": 400.34, "v": 30, "v2": 174}, {"e": 400.18, "v": 30, "v2": 174}]}, "mark": {"type": "rule", "color": "#9a9a9a", "strokeDash": [3,2], "strokeWidth": 1}, "encoding": {"y2": {"field": "v2"}}},
{"data": {"values": [
  {"e":401.3,"v":174,"e2":399.46,"v2":174,"k":"ar"},
  {"e":401.3,"v":174,"e2":401.03,"v2":171.7,"k":"ar"},
  {"e":401.3,"v":174,"e2":401.03,"v2":176.3,"k":"ar"},
  {"e":402.33,"v":66.3,"e2":401.54,"v2":56.3,"k":"lg"},
  {"e":402.33,"v":66.3,"e2":402.2,"v2":61.75,"k":"lg"},
  {"e":402.33,"v":66.3,"e2":402.03,"v2":65.46,"k":"lg"},
  {"e":398.85,"v":88,"e2":399.77,"v2":58,"k":"lp"},
  {"e":398.85,"v":88,"e2":399.1,"v2":85.1,"k":"lp"},
  {"e":398.85,"v":88,"e2":398.84,"v2":83,"k":"lp"},
  {"e":397.83,"v":71.3,"e2":398.36,"v2":65,"k":"ld"},
  {"e":397.83,"v":71.3,"e2":398.13,"v2":70.6,"k":"ld"},
  {"e":397.83,"v":71.3,"e2":397.96,"v2":66.8,"k":"ld"}]},
 "mark": {"type": "rule", "strokeWidth": 1.2},
 "encoding": {"x2": {"field": "e2"}, "y2": {"field": "v2"}, "color": {"field": "k", "type": "nominal", "scale": {"domain": ["r1","r2","f1","f2","g1","g2","p1","p2","d1","d2","ar","lg","lp","ld"], "range": ["#7d7d7d","#7d7d7d","#a85a50","#a85a50","#74c274","#74c274","#d65ad6","#d65ad6","#6f88cc","#6f88cc","#8a8a8a","#3c9c3c","#cc40cc","#5872c4"]}, "legend": null}}},
{"data": {"values": [{"e": 409.66, "v": 134, "t": "Fe₅C₂/NC600"}, {"e": 409.66, "v": 47, "t": "NC600"}]},
 "mark": {"type": "text", "align": "left", "baseline": "middle", "fontWeight": "bold", "fontSize": 13, "color": "#111"},
 "encoding": {"text": {"field": "t", "type": "nominal"}}},
{"data": {"values": [{"e": 396.0, "v": 184, "t": "N 1s"}]}, "mark": {"type": "text", "fontSize": 15, "color": "#111", "baseline": "middle"}, "encoding": {"text": {"field": "t", "type": "nominal"}}},
{"data": {"values": [{"e": 403.0, "v": 174, "t": "Δ= 0.16 eV"}]}, "mark": {"type": "text", "fontSize": 11.5, "fontWeight": "bold", "color": "#d62b2b", "baseline": "middle"}, "encoding": {"text": {"field": "t", "type": "nominal"}}},
{"data": {"values": [
  {"e": 402.82, "v": 71.3, "t": "graphitic-N", "k": "lg"},
  {"e": 398.49, "v": 93, "t": "pyrrolic-N", "k": "lp"},
  {"e": 396.9, "v": 78, "t": "pyridinic-N", "k": "ld"}]},
 "mark": {"type": "text", "fontSize": 12, "baseline": "middle"},
 "encoding": {"text": {"field": "t", "type": "nominal"}, "color": {"field": "k", "type": "nominal", "scale": {"domain": ["r1","r2","f1","f2","g1","g2","p1","p2","d1","d2","ar","lg","lp","ld"], "range": ["#7d7d7d","#7d7d7d","#a85a50","#a85a50","#74c274","#74c274","#d65ad6","#d65ad6","#6f88cc","#6f88cc","#8a8a8a","#3c9c3c","#cc40cc","#5872c4"]}, "legend": null}}},
{"data": {"values": [{"e": 410.85, "v": 188, "t": "b"}]}, "mark": {"type": "text", "fontSize": 19, "color": "#333", "baseline": "alphabetic", "align": "center"}, "encoding": {"text": {"field": "t", "type": "nominal"}}}
]
}
],
"spacing": 48, "bounds": "flush",
"resolve": {"scale": {"x": "independent", "y": "independent", "color": "independent"}}
},
{
"hconcat": [
{
"width": 245, "height": 196,
"encoding": {
  "x": {"field": "e", "type": "quantitative", "scale": {"domain": [410, 394], "nice": false, "zero": false}, "axis": {"title": "Binding Energy (eV)", "values": [410,408,406,404,402,400,398,396,394], "labelPadding": 2, "titlePadding": 4}},
  "y": {"field": "v", "type": "quantitative", "scale": {"domain": [0, 196], "nice": false, "zero": false}, "axis": {"title": "Intensity (a. u.)", "labels": false, "ticks": false, "titlePadding": 18}}
},
"layer": [
{"data": {"name": "c"}, "transform": [{"fold": ["r8","r7","r6","r5"], "as": ["k","v"]}, {"filter": "isValid(datum.v)"}],
 "mark": {"type": "line", "strokeWidth": 0.9},
 "encoding": {"color": {"field": "k", "type": "nominal", "scale": {"domain": ["r8","r7","r6","r5","f8","f7","f6","f5","g8","g7","g6","g5","p8","p7","p6","p5","d8","d7","d6","d5","o8","o7","lo","lg","lp","ld"], "range": ["#8a8a8a","#8a8a8a","#8a8a8a","#8a8a8a","#c8463c","#c8463c","#c8463c","#c8463c","#74c274","#74c274","#74c274","#74c274","#d65ad6","#d65ad6","#d65ad6","#d65ad6","#7088cc","#7088cc","#7088cc","#7088cc","#f0c47e","#f0c47e","#eebd74","#3ca33c","#c740c7","#5f78c6"]}, "legend": null}}},
{"data": {"name": "c"}, "transform": [{"fold": ["o8","o7","g8","g7","g6","g5","p8","p7","p6","p5","d8","d7","d6","d5"], "as": ["k","v"]}, {"filter": "isValid(datum.v)"}],
 "mark": {"type": "line", "strokeWidth": 1, "interpolate": "monotone"},
 "encoding": {"color": {"field": "k", "type": "nominal", "scale": {"domain": ["r8","r7","r6","r5","f8","f7","f6","f5","g8","g7","g6","g5","p8","p7","p6","p5","d8","d7","d6","d5","o8","o7","lo","lg","lp","ld"], "range": ["#8a8a8a","#8a8a8a","#8a8a8a","#8a8a8a","#c8463c","#c8463c","#c8463c","#c8463c","#74c274","#74c274","#74c274","#74c274","#d65ad6","#d65ad6","#d65ad6","#d65ad6","#7088cc","#7088cc","#7088cc","#7088cc","#f0c47e","#f0c47e","#eebd74","#3ca33c","#c740c7","#5f78c6"]}, "legend": null}}},
{"data": {"name": "c"}, "transform": [{"fold": ["f8","f7","f6","f5"], "as": ["k","v"]}, {"filter": "isValid(datum.v)"}],
 "mark": {"type": "line", "strokeWidth": 1.4, "interpolate": "monotone"},
 "encoding": {"color": {"field": "k", "type": "nominal", "scale": {"domain": ["r8","r7","r6","r5","f8","f7","f6","f5","g8","g7","g6","g5","p8","p7","p6","p5","d8","d7","d6","d5","o8","o7","lo","lg","lp","ld"], "range": ["#8a8a8a","#8a8a8a","#8a8a8a","#8a8a8a","#c8463c","#c8463c","#c8463c","#c8463c","#74c274","#74c274","#74c274","#74c274","#d65ad6","#d65ad6","#d65ad6","#d65ad6","#7088cc","#7088cc","#7088cc","#7088cc","#f0c47e","#f0c47e","#eebd74","#3ca33c","#c740c7","#5f78c6"]}, "legend": null}}},
{"data": {"values": [
  {"e":405.1,"v":170.3,"e2":404.45,"v2":147,"k":"lo"},
  {"e":405.1,"v":170.3,"e2":405.13,"v2":165.3,"k":"lo"},
  {"e":405.1,"v":170.3,"e2":404.85,"v2":167.2,"k":"lo"},
  {"e":402.05,"v":165,"e2":401.57,"v2":157,"k":"lg"},
  {"e":402.05,"v":165,"e2":401.97,"v2":160.2,"k":"lg"},
  {"e":402.05,"v":165,"e2":401.74,"v2":163.3,"k":"lg"},
  {"e":399.66,"v":175.3,"e2":400.2,"v2":148.7,"k":"lp"},
  {"e":399.66,"v":175.3,"e2":399.89,"v2":171.8,"k":"lp"},
  {"e":399.66,"v":175.3,"e2":399.6,"v2":170.4,"k":"lp"},
  {"e":397.26,"v":160.3,"e2":397.81,"v2":150.3,"k":"ld"},
  {"e":397.26,"v":160.3,"e2":397.56,"v2":158.4,"k":"ld"},
  {"e":397.26,"v":160.3,"e2":397.33,"v2":155.4,"k":"ld"}]},
 "mark": {"type": "rule", "strokeWidth": 1.1},
 "encoding": {"x2": {"field": "e2"}, "y2": {"field": "v2"}, "color": {"field": "k", "type": "nominal", "scale": {"domain": ["r8","r7","r6","r5","f8","f7","f6","f5","g8","g7","g6","g5","p8","p7","p6","p5","d8","d7","d6","d5","o8","o7","lo","lg","lp","ld"], "range": ["#8a8a8a","#8a8a8a","#8a8a8a","#8a8a8a","#c8463c","#c8463c","#c8463c","#c8463c","#74c274","#74c274","#74c274","#74c274","#d65ad6","#d65ad6","#d65ad6","#d65ad6","#7088cc","#7088cc","#7088cc","#7088cc","#f0c47e","#f0c47e","#eebd74","#3ca33c","#c740c7","#5f78c6"]}, "legend": null}}},
{"data": {"values": [{"e": 409.56, "v": 155.3, "t": "NC800"}, {"e": 409.56, "v": 114.3, "t": "NC700"}, {"e": 409.56, "v": 77, "t": "NC600"}, {"e": 409.56, "v": 31.3, "t": "NC500"}]},
 "mark": {"type": "text", "align": "left", "baseline": "middle", "fontWeight": "bold", "fontSize": 12.5, "color": "#111"},
 "encoding": {"text": {"field": "t", "type": "nominal"}}},
{"data": {"values": [{"e": 395.24, "v": 184.3, "t": "N 1s"}]}, "mark": {"type": "text", "fontSize": 14, "color": "#111", "baseline": "middle"}, "encoding": {"text": {"field": "t", "type": "nominal"}}},
{"data": {"values": [
  {"e": 406.15, "v": 176.3, "t": "oxidized N", "k": "lo"},
  {"e": 402.38, "v": 171, "t": "graphitic-N", "k": "lg"},
  {"e": 398.73, "v": 183.7, "t": "pyrrolic-N", "k": "lp"},
  {"e": 395.76, "v": 169.7, "t": "pyridinic-N", "k": "ld"}]},
 "mark": {"type": "text", "fontSize": 11.5, "baseline": "middle"},
 "encoding": {"text": {"field": "t", "type": "nominal"}, "color": {"field": "k", "type": "nominal", "scale": {"domain": ["r8","r7","r6","r5","f8","f7","f6","f5","g8","g7","g6","g5","p8","p7","p6","p5","d8","d7","d6","d5","o8","o7","lo","lg","lp","ld"], "range": ["#8a8a8a","#8a8a8a","#8a8a8a","#8a8a8a","#c8463c","#c8463c","#c8463c","#c8463c","#74c274","#74c274","#74c274","#74c274","#d65ad6","#d65ad6","#d65ad6","#d65ad6","#7088cc","#7088cc","#7088cc","#7088cc","#f0c47e","#f0c47e","#eebd74","#3ca33c","#c740c7","#5f78c6"]}, "legend": null}}},
{"data": {"values": [{"e": 411.6, "v": 185.3, "t": "c"}]}, "mark": {"type": "text", "fontSize": 19, "color": "#333", "baseline": "alphabetic", "align": "center"}, "encoding": {"text": {"field": "t", "type": "nominal"}}}
]
},
{
"width": 253, "height": 196,
"encoding": {
  "y": {"field": "v", "type": "quantitative", "scale": {"domain": [0, 5], "nice": false, "zero": true}, "axis": {"title": "N contents (%)", "values": [0,1,2,3,4,5], "ticks": false, "labelPadding": 3, "titlePadding": 2}}
},
"layer": [
{
"data": {"name": "d"},
"mark": {"type": "bar", "stroke": "#707070", "strokeWidth": 0.8},
"encoding": {
  "x": {"field": "s", "type": "nominal", "sort": ["NC500","NC600","NC700","NC800"], "scale": {"paddingInner": 0.2, "paddingOuter": 0.4, "align": 0.61}, "axis": {"title": null, "labelAngle": 0, "ticks": false, "labelPadding": 8, "labelFontSize": 14.5}},
  "xOffset": {"field": "t", "type": "nominal", "sort": ["pyridinic N","pyrrolic N","graphitic N","oxidized N"], "scale": {"domain": ["pyridinic N","pyrrolic N","graphitic N","oxidized N"], "paddingInner": 0, "paddingOuter": 0}},
  "color": {"field": "t", "type": "nominal", "scale": {"domain": ["pyridinic N","pyrrolic N","graphitic N","oxidized N"], "range": ["#ebebeb","#ee1c1c","#d6e6f8","#f6efd6"]},
    "legend": {"orient": "none", "legendX": 92, "legendY": 0, "columns": 2, "direction": "horizontal", "title": null, "symbolType": "M-1,-0.45H1V0.45H-1Z", "symbolSize": 400, "symbolStrokeColor": "#888", "symbolStrokeWidth": 1, "labelFontSize": 11.5, "labelColor": "#222", "columnPadding": 3, "rowPadding": 3, "labelOffset": 3}}
}
},
{
"data": {"values": [{"px": -0.069, "v": 4.7, "t": "d"}]},
"mark": {"type": "text", "fontSize": 19, "color": "#333", "baseline": "alphabetic", "align": "center"},
"encoding": {
  "x": {"field": "px", "type": "quantitative", "scale": {"domain": [0, 1], "nice": false, "zero": false}, "axis": null},
  "text": {"field": "t", "type": "nominal"}
}
}
],
"resolve": {"scale": {"x": "independent"}}
}
],
"spacing": 40, "bounds": "flush",
"resolve": {"scale": {"x": "independent", "y": "independent", "color": "independent"}}
}
],
"spacing": 8,
"resolve": {"scale": {"x": "independent", "y": "independent", "color": "independent"}}
}
